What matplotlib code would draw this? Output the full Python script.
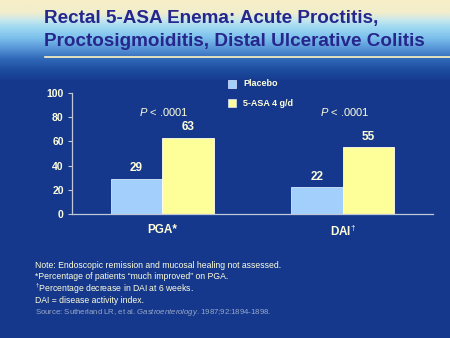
import numpy as np
import matplotlib.pyplot as plt
from matplotlib.colors import LinearSegmentedColormap

plt.rcParams["mathtext.fontset"] = "custom"
plt.rcParams["mathtext.rm"] = "Liberation Sans"
plt.rcParams["mathtext.it"] = "Liberation Sans:italic"
plt.rcParams["mathtext.bf"] = "Liberation Sans:bold"

categories = ["PGA*", "DAI$^{\\dagger}$"]
series = ["Placebo", "5-ASA 4 g/d"]
placebo = [29, 22]
asa = [63, 55]
p_labels = ["< .0001", "< .0001"]
yticks = [0, 20, 40, 60, 80, 100]

title_lines = ["Rectal 5-ASA Enema: Acute Proctitis,",
               "Proctosigmoiditis, Distal Ulcerative Colitis"]
notes = ["Note: Endoscopic remission and mucosal healing not assessed.",
         "*Percentage of patients \u201cmuch improved\u201d on PGA.",
         "$^{\\dagger}$Percentage decrease in DAI at 6 weeks.",
         "DAI = disease activity index."]

BG = "#15388c"
TXT = "#ffffdd"
C_PLAC = "#a3cffd"
C_ASA = "#ffff99"

W, H = 450, 338
fig = plt.figure(figsize=(4.5, 3.38), dpi=100)
fig.patch.set_facecolor(BG)

# header gradient, cream at the top fading into the dark blue body
bg = fig.add_axes([0, 0, 1, 1], zorder=-1)
bg.set_xlim(0, W)
bg.set_ylim(H, 0)
bg.axis("off")
grad = LinearSegmentedColormap.from_list("hdr", [
    (0.0, "#f8eec8"), (0.15, "#f2eecc"), (0.24, "#c8e8ec"), (0.32, "#a2daf2"),
    (0.46, "#7cc0ec"), (0.58, "#5a98da"), (0.72, "#3068b8"), (0.86, "#1c4c9e"),
    (1.0, BG)])
bg.imshow(np.linspace(0, 1, 200)[:, None], cmap=grad, aspect="auto",
          extent=[0, W, 82, 0])
bg.plot([45, 450], [57, 57], color="#fff4c0", lw=1.2)
for i, line in enumerate(title_lines):
    bg.text(44, 19 + 23 * i, line, fontsize=13.6, fontweight="bold",
            color="#26268c", va="center", ha="left", family="Liberation Sans")
for i, line in enumerate(notes):
    bg.text(35, 265 + 11.8 * i, line, fontsize=6.25, color=TXT, va="center",
            family="Liberation Sans")
bg.text(35, 313, "Source: Sutherland LR, et al. $\\it{Gastroenterology}$. 1987;92:1894-1898.",
        fontsize=5.6, color="#98a8c8", va="center", family="Liberation Sans")

# chart area
ax = fig.add_axes([72 / W, 1 - 214 / H, (433 - 72) / W, (214 - 93) / H])
ax.set_facecolor("none")
x = np.arange(len(categories))
bw = 0.285
ax.bar(x - bw / 2, placebo, bw, color=C_PLAC, edgecolor="#d8e8ff", lw=0.6)
ax.bar(x + bw / 2, asa, bw, color=C_ASA, edgecolor="#fffff0", lw=0.6)
for xi, v in zip(x - bw / 2, placebo):
    ax.text(xi, v + 4, str(v), ha="center", va="bottom", color=TXT,
            fontsize=8.5, fontweight="bold", family="Liberation Sans")
for xi, v in zip(x + bw / 2, asa):
    ax.text(xi, v + 4, str(v), ha="center", va="bottom", color=TXT,
            fontsize=8.5, fontweight="bold", family="Liberation Sans")
for xi, p in zip(x, p_labels):
    ax.text(xi + 0.01, 84, "$\\it{P}$ " + p, ha="center", va="center",
            color=TXT, fontsize=8, family="Liberation Sans")

ax.set_xlim(-0.5, 1.5)
ax.set_ylim(0, 100)
ax.set_yticks(yticks)
ax.set_yticklabels([str(t) for t in yticks], fontsize=7.5, fontweight="bold",
                   color=TXT, family="Liberation Sans")
ax.set_xticks(x)
ax.set_xticklabels(categories, fontsize=8.5, fontweight="bold", color=TXT,
                   family="Liberation Sans")
ax.tick_params(axis="y", length=3, color="#c0c8d8", width=0.8, pad=3)
ax.tick_params(axis="x", length=0, pad=7)
for s in ["top", "right"]:
    ax.spines[s].set_visible(False)
for s in ["left", "bottom"]:
    ax.spines[s].set_color("#c0c8d8")
    ax.spines[s].set_linewidth(0.9)

# legend drawn as small squares with labels
for i, (name, c) in enumerate(zip(series, [C_PLAC, C_ASA])):
    yy = 84 + 19 * i
    bg.add_patch(plt.Rectangle((228, yy - 4), 8, 8, facecolor=c,
                               edgecolor="#e0e8ff", lw=0.5))
    bg.text(243, yy, name, fontsize=6.5, fontweight="bold", color=TXT,
            va="center", family="Liberation Sans")

fig.savefig("out.png", dpi=100, facecolor=BG)
